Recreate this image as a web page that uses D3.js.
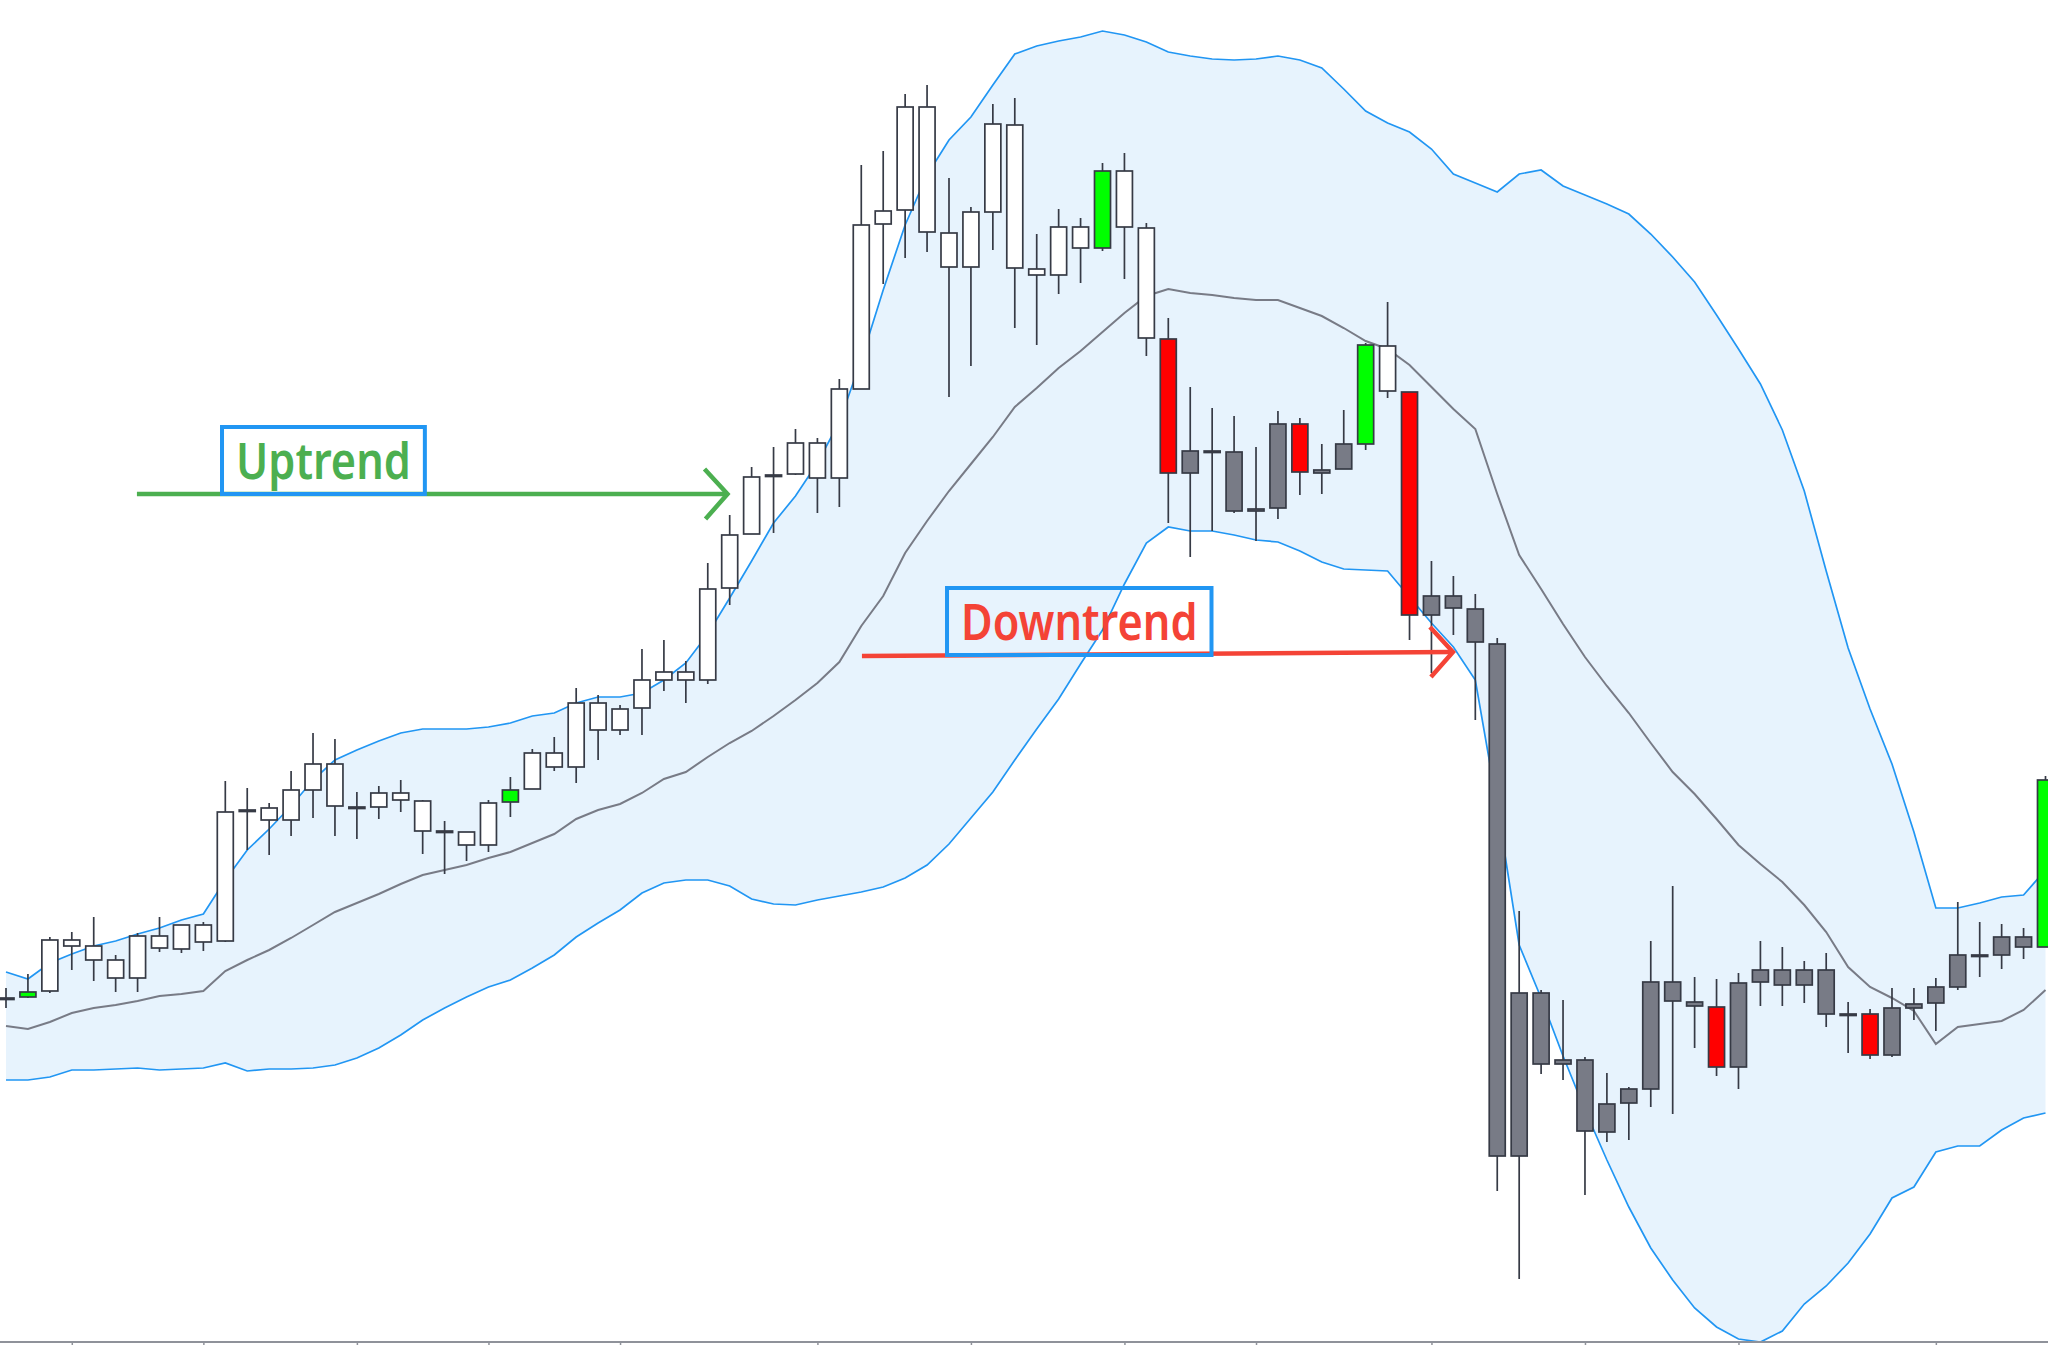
<!DOCTYPE html>
<html>
<head>
<meta charset="utf-8">
<script src="https://cdn.jsdelivr.net/npm/d3@7"></script>
<style>
  html, body { margin: 0; padding: 0; background: #fff; }
  svg { display: block; }
</style>
</head>
<body>
<div id="chart"></div>
<script>
"use strict"

// OHLC, one entry per candle (94 candles)
const open = [
  1.1402, 1.1403, 1.1409, 1.1454, 1.1440, 1.1422, 1.1422, 1.1452, 1.1451, 1.1458,
  1.1459, 1.1590, 1.1580, 1.1580, 1.1610, 1.1594, 1.1593, 1.1593, 1.1600, 1.1569,
  1.1569, 1.1555, 1.1555, 1.1598, 1.1611, 1.1633, 1.1633, 1.1670, 1.1670, 1.1692,
  1.1720, 1.1720, 1.1720, 1.1812, 1.1866, 1.1925, 1.1926, 1.1922, 1.1922, 1.2011,
  1.2176, 1.2190, 1.2168, 1.2133, 1.2133, 1.2188, 1.2132, 1.2125, 1.2125, 1.2152,
  1.2152, 1.2173, 1.2062, 1.2061, 1.1949, 1.1949, 1.1948, 1.1891, 1.1976, 1.1976,
  1.1930, 1.1956, 1.1956, 1.2009, 1.2008, 1.1804, 1.1804, 1.1791, 1.1756, 1.1407,
  1.1407, 1.1340, 1.1340, 1.1296, 1.1311, 1.1418, 1.1418, 1.1398, 1.1393, 1.1417,
  1.1430, 1.1430, 1.1430, 1.1430, 1.1386, 1.1386, 1.1392, 1.1396, 1.1413, 1.1445,
  1.1445, 1.1463, 1.1463, 1.1453
];
const high = [
  1.1412, 1.1426, 1.1463, 1.1468, 1.1483, 1.1445, 1.1467, 1.1483, 1.1475, 1.1478,
  1.1619, 1.1612, 1.1597, 1.1629, 1.1667, 1.1661, 1.1608, 1.1614, 1.1620, 1.1600,
  1.1579, 1.1568, 1.1600, 1.1623, 1.1651, 1.1663, 1.1712, 1.1705, 1.1695, 1.1751,
  1.1760, 1.1739, 1.1837, 1.1885, 1.1933, 1.1953, 1.1971, 1.1962, 1.2021, 1.2235,
  1.2249, 1.2306, 1.2315, 1.2222, 1.2193, 1.2296, 1.2302, 1.2166, 1.2191, 1.2182,
  1.2237, 1.2247, 1.2177, 1.2082, 1.2013, 1.1992, 1.1984, 1.1953, 1.1989, 1.1982,
  1.1956, 1.1990, 1.2057, 1.2098, 1.2008, 1.1839, 1.1824, 1.1806, 1.1762, 1.1489,
  1.1410, 1.1400, 1.1343, 1.1327, 1.1313, 1.1459, 1.1514, 1.1423, 1.1421, 1.1427,
  1.1459, 1.1453, 1.1439, 1.1447, 1.1398, 1.1391, 1.1412, 1.1412, 1.1422, 1.1498,
  1.1478, 1.1476, 1.1472, 1.1624
];
const low = [
  1.1392, 1.1402, 1.1407, 1.1430, 1.1419, 1.1408, 1.1408, 1.1448, 1.1447, 1.1449,
  1.1458, 1.1550, 1.1545, 1.1564, 1.1582, 1.1564, 1.1561, 1.1581, 1.1588, 1.1546,
  1.1526, 1.1539, 1.1548, 1.1583, 1.1611, 1.1629, 1.1617, 1.1640, 1.1665, 1.1665,
  1.1709, 1.1697, 1.1716, 1.1795, 1.1866, 1.1867, 1.1925, 1.1887, 1.1893, 1.2011,
  1.2116, 1.2142, 1.2148, 1.2003, 1.2034, 1.2150, 1.2072, 1.2055, 1.2106, 1.2117,
  1.2149, 1.2121, 1.2044, 1.1877, 1.1843, 1.1869, 1.1887, 1.1859, 1.1881, 1.1905,
  1.1906, 1.1931, 1.1950, 1.2002, 1.1760, 1.1727, 1.1765, 1.1680, 1.1209, 1.1121,
  1.1326, 1.1320, 1.1205, 1.1258, 1.1260, 1.1293, 1.1286, 1.1352, 1.1324, 1.1311,
  1.1394, 1.1394, 1.1397, 1.1373, 1.1347, 1.1341, 1.1343, 1.1380, 1.1369, 1.1410,
  1.1423, 1.1431, 1.1441, 1.1453
];
const close = [
  1.1402, 1.1408, 1.1460, 1.1460, 1.1454, 1.1440, 1.1464, 1.1464, 1.1475, 1.1475,
  1.1588, 1.1590, 1.1592, 1.1610, 1.1636, 1.1636, 1.1593, 1.1607, 1.1607, 1.1599,
  1.1569, 1.1568, 1.1597, 1.1610, 1.1647, 1.1647, 1.1697, 1.1697, 1.1691, 1.1720,
  1.1728, 1.1728, 1.1811, 1.1865, 1.1923, 1.1925, 1.1957, 1.1957, 1.2011, 1.2175,
  1.2189, 1.2293, 1.2293, 1.2167, 1.2188, 1.2276, 1.2275, 1.2131, 1.2173, 1.2173,
  1.2229, 1.2229, 1.2172, 1.1927, 1.1927, 1.1949, 1.1889, 1.1889, 1.1892, 1.1928,
  1.1927, 1.1931, 1.2055, 1.2054, 1.1785, 1.1785, 1.1792, 1.1758, 1.1244, 1.1244,
  1.1336, 1.1336, 1.1269, 1.1268, 1.1297, 1.1311, 1.1399, 1.1394, 1.1333, 1.1333,
  1.1418, 1.1415, 1.1415, 1.1386, 1.1386, 1.1345, 1.1345, 1.1392, 1.1397, 1.1413,
  1.1445, 1.1445, 1.1453, 1.1620
];
// body colour per candle: u = white, d = grey, g = green, r = red
const kinds = ("uguuuuuuuu uuuuuuuuuu uuuguuuuuu uuuuuuuuuu uuuuuuuuuu " +
               "guurdddddr ddgurddddd ddddddddrd dddddrdddd dddg")
  .replace(/ /g, "").split("");

// Bollinger bands
const upper = [
  1.1428, 1.1421, 1.1437, 1.1446, 1.1454, 1.1459, 1.1466, 1.1472, 1.1480, 1.1486,
  1.1520, 1.1550, 1.1571, 1.1594, 1.1620, 1.1640, 1.1650, 1.1659, 1.1667, 1.1671,
  1.1671, 1.1671, 1.1673, 1.1677, 1.1684, 1.1687, 1.1697, 1.1703, 1.1703, 1.1707,
  1.1720, 1.1737, 1.1766, 1.1802, 1.1839, 1.1877, 1.1904, 1.1937, 1.1978, 1.2040,
  1.2110, 1.2175, 1.2225, 1.2260, 1.2283, 1.2315, 1.2346, 1.2354, 1.2359, 1.2363,
  1.2369, 1.2365, 1.2358, 1.2348, 1.2344, 1.2341, 1.2340, 1.2341, 1.2344, 1.2340,
  1.2332, 1.2311, 1.2289, 1.2277, 1.2268, 1.2251, 1.2226, 1.2217, 1.2208, 1.2226,
  1.2230, 1.2214, 1.2205, 1.2196, 1.2186, 1.2166, 1.2143, 1.2118, 1.2085, 1.2051,
  1.2016, 1.1970, 1.1909, 1.1829, 1.1752, 1.1691, 1.1636, 1.1568, 1.1492, 1.1492,
  1.1497, 1.1503, 1.1505, 1.1530
];
const middle = [
  1.1374, 1.1371, 1.1378, 1.1387, 1.1392, 1.1395, 1.1399, 1.1404, 1.1406, 1.1409,
  1.1429, 1.1440, 1.1450, 1.1462, 1.1475, 1.1488, 1.1497, 1.1506, 1.1516, 1.1525,
  1.1530, 1.1535, 1.1542, 1.1548, 1.1557, 1.1566, 1.1581, 1.1590, 1.1596, 1.1607,
  1.1621, 1.1628, 1.1643, 1.1657, 1.1669, 1.1684, 1.1700, 1.1717, 1.1738, 1.1774,
  1.1804, 1.1847, 1.1879, 1.1909, 1.1936, 1.1963, 1.1993, 1.2012, 1.2032, 1.2049,
  1.2068, 1.2087, 1.2104, 1.2111, 1.2107, 1.2105, 1.2102, 1.2100, 1.2100, 1.2092,
  1.2084, 1.2072, 1.2059, 1.2051, 1.2035, 1.2013, 1.1991, 1.1971, 1.1906, 1.1845,
  1.1811, 1.1776, 1.1743, 1.1714, 1.1687, 1.1657, 1.1628, 1.1606, 1.1581, 1.1555,
  1.1536, 1.1518, 1.1495, 1.1468, 1.1433, 1.1413, 1.1402, 1.1389, 1.1356, 1.1373,
  1.1376, 1.1379, 1.1390, 1.1410
];
const lower = [
  1.1320, 1.1320, 1.1323, 1.1330, 1.1330, 1.1331, 1.1332, 1.1330, 1.1331, 1.1332,
  1.1337, 1.1329, 1.1331, 1.1331, 1.1332, 1.1335, 1.1342, 1.1352, 1.1365, 1.1380,
  1.1392, 1.1403, 1.1413, 1.1420, 1.1432, 1.1445, 1.1463, 1.1477, 1.1490, 1.1507,
  1.1517, 1.1520, 1.1520, 1.1514, 1.1501, 1.1496, 1.1495, 1.1500, 1.1504, 1.1508,
  1.1513, 1.1522, 1.1535, 1.1556, 1.1582, 1.1608, 1.1640, 1.1671, 1.1701, 1.1736,
  1.1770, 1.1816, 1.1857, 1.1873, 1.1869, 1.1869, 1.1865, 1.1860, 1.1858, 1.1849,
  1.1838, 1.1831, 1.1830, 1.1829, 1.1803, 1.1777, 1.1753, 1.1720, 1.1594, 1.1455,
  1.1402, 1.1344, 1.1290, 1.1240, 1.1193, 1.1152, 1.1120, 1.1092, 1.1073, 1.1061,
  1.1058, 1.1069, 1.1096, 1.1114, 1.1137, 1.1166, 1.1202, 1.1213, 1.1248, 1.1254,
  1.1254, 1.1270, 1.1282, 1.1287
];

// time axis ticks (candle index)
const tickIdx = [3, 9, 16, 22, 28, 37, 44, 51, 57, 65, 72, 79, 88];

// trend annotations, in candle index / price units
const notes = [
  {text: "Uptrend", color: "#4caf50", from: 5.97, to: 32.9, start: 1.1906, end: 1.1906,
   boxFrom: 9.85, boxTo: 19.1, boxTop: 1.1973, boxBottom: 1.1906},
  {text: "Downtrend", color: "#f44336", from: 39.03, to: 65.98, start: 1.1744, end: 1.1748,
   boxFrom: 42.91, boxTo: 54.97, boxTop: 1.1812, boxBottom: 1.1745}
];

const width = 2048, height = 1345;
const fills = {u: "#ffffff", d: "#787b86", g: "#00ff00", r: "#ff0000"};
const ink = "#363a45";

const candles = open.map((o, i) => ({
  i, o, h: high[i], l: low[i], c: close[i], kind: kinds[i],
  up: upper[i], mid: middle[i], lo: lower[i]
}));

const x = d3.scaleLinear().domain([0, 93]).range([6, 2045.5]);
const y = d3.scaleLinear().domain([1.1055, 1.2400]).range([height, 0]);

const svg = d3.select("#chart").append("svg")
  .attr("width", width)
  .attr("height", height);

// band fill
svg.append("path")
  .datum(candles)
  .attr("fill", "#e7f3fd")
  .attr("d", d3.area().x(d => x(d.i)).y0(d => y(d.lo)).y1(d => y(d.up)));

// band lines
const line = key => d3.line().x(d => x(d.i)).y(d => y(d[key]));
svg.append("path").datum(candles)
  .attr("fill", "none").attr("stroke", "#787b86").attr("stroke-width", 2)
  .attr("d", line("mid"));
["up", "lo"].forEach(k => {
  svg.append("path").datum(candles)
    .attr("fill", "none").attr("stroke", "#2196f3").attr("stroke-width", 1.7)
    .attr("d", line(k));
});

// axis
const axis = svg.append("g")
  .attr("transform", `translate(0,${height - 3})`)
  .call(d3.axisBottom(x).tickValues(tickIdx).tickFormat("").tickSize(4).tickSizeOuter(0));
axis.select(".domain").attr("stroke", "#8f929a").attr("stroke-width", 2)
  .attr("d", `M0,0H${width}`);
axis.selectAll(".tick line").attr("stroke", "#8f929a").attr("stroke-width", 1.5);

// candles
const cg = svg.append("g");
cg.selectAll("line.wick")
  .data(candles)
  .enter()
    .append("line")
      .attr("class", "wick")
      .attr("x1", d => x(d.i)).attr("x2", d => x(d.i))
      .attr("y1", d => y(d.h)).attr("y2", d => y(d.l))
      .attr("stroke", ink).attr("stroke-width", 1.7);

cg.selectAll("rect.body")
  .data(candles)
  .enter()
    .append("rect")
      .attr("class", "body")
      .attr("x", d => x(d.i) - 8)
      .attr("width", 16)
      .attr("y", d => y(Math.max(d.o, d.c)))
      .attr("height", d => Math.max(1.5, Math.abs(y(d.o) - y(d.c))))
      .attr("fill", d => fills[d.kind])
      .attr("stroke", ink).attr("stroke-width", 1.7);

// annotations
notes.forEach(n => {
  const g = svg.append("g");
  const x0 = x(n.from), x1 = x(n.to), y0 = y(n.start), y1 = y(n.end);
  g.append("line")
    .attr("x1", x0).attr("y1", y0).attr("x2", x1).attr("y2", y1)
    .attr("stroke", n.color).attr("stroke-width", 4.5);
  g.append("path")
    .attr("d", `M${x1 - 23},${y1 - 25}L${x1},${y1}L${x1 - 22},${y1 + 25}`)
    .attr("fill", "none").attr("stroke", n.color).attr("stroke-width", 4.5);

  const bx0 = x(n.boxFrom), bx1 = x(n.boxTo), by0 = y(n.boxTop), by1 = y(n.boxBottom);
  g.append("rect")
    .attr("x", bx0).attr("y", by0)
    .attr("width", bx1 - bx0).attr("height", by1 - by0)
    .attr("fill", "none").attr("stroke", "#2196f3").attr("stroke-width", 4);
  g.append("text")
    .attr("x", (bx0 + bx1) / 2)
    .attr("y", by1 - 15)
    .attr("text-anchor", "middle")
    .attr("font-family", "'Noto Sans', 'Open Sans', sans-serif")
    .attr("font-weight", 600)
    .attr("font-size", 50)
    .attr("textLength", (bx1 - bx0) - 28)
    .attr("lengthAdjust", "spacingAndGlyphs")
    .attr("fill", n.color)
    .text(n.text);
});
</script>
</body>
</html>
